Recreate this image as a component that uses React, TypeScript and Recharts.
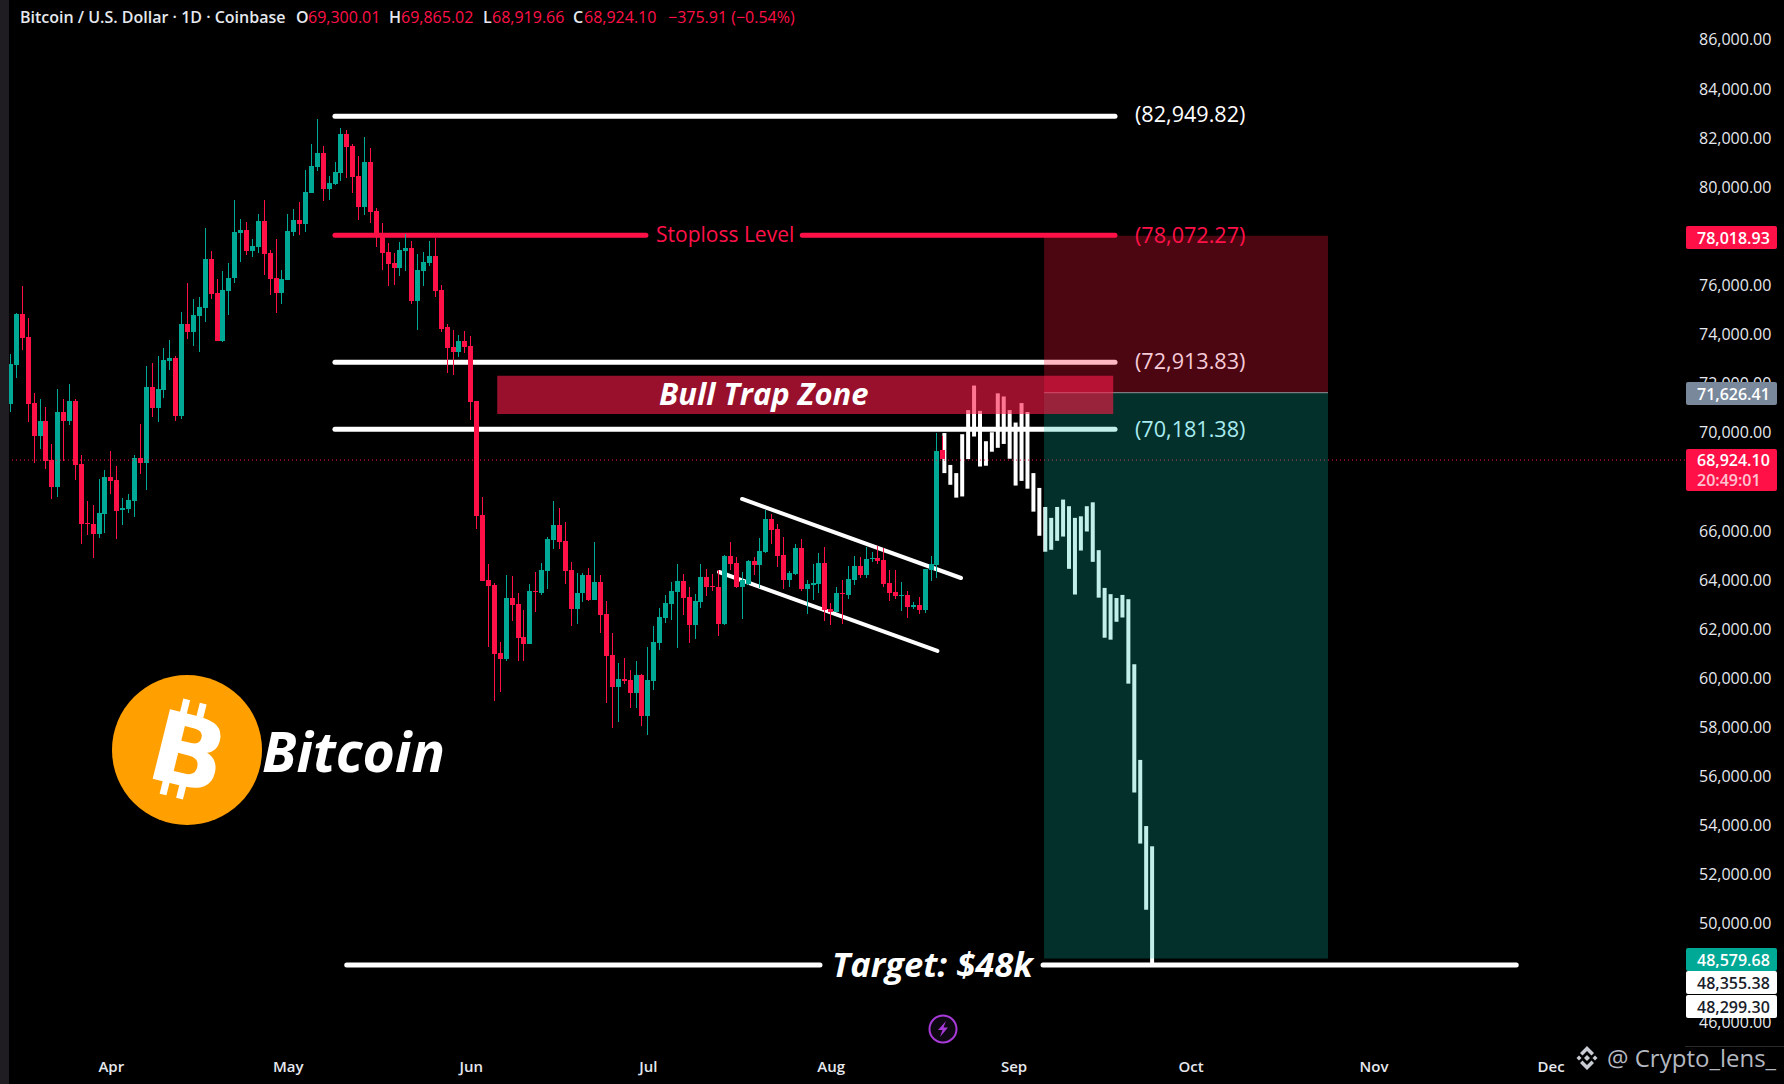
import React from 'react';
import { ComposedChart, Bar, XAxis, YAxis, ReferenceLine, ReferenceArea } from 'recharts';

const WIDTH = 1784;
const HEIGHT = 1084;
const UI_FONT = '"Open Sans", "Noto Sans", sans-serif';
const RED = '#ff1148';
const TEAL = '#00a896';

// daily candles
const opens = [
  71163, 72751, 74829, 73892, 71203, 69859, 70470, 68881, 67781, 70837, 70470, 71285, 68718, 66315, 66274, 65866, 66681, 68189, 68066, 66844,
  66885, 67211, 68963, 68759, 71855, 71000, 71733, 72914, 73037, 70674, 74422, 74096, 74748, 75074, 77070, 75685, 73729, 75766, 76296, 78129,
  78251, 77396, 77559, 78618, 77314, 76296, 75685, 76214, 78170, 78659, 78496, 79759, 80818, 81388, 79922, 80125, 80574, 82162, 81674, 80451,
  79188, 81022, 79025, 78048, 77355, 76907, 76703, 77396, 77518, 75359, 76581, 76907, 77192, 75807, 74300, 73485, 73281, 73729, 73526, 71285,
  66640, 63996, 63793, 61022, 60778, 63263, 63019, 61674, 61389, 63548, 63467, 64363, 65626, 66237, 65585, 64404, 62815, 63467, 64200, 63182,
  63915, 62611, 60941, 59637, 59963, 59922, 59393, 60126, 58456, 59882, 61430, 62448, 63019, 63508, 63956, 63304, 62163, 63100, 64119, 63752,
  63711, 62204, 64974, 64689, 63711, 63833, 64770, 64607, 65137, 66482, 66074, 65015, 63996, 64241, 65300, 63630, 63793, 63833, 64689, 62815,
  62693, 63467, 63385, 63996, 64567, 64200, 64852, 64893, 64811, 63874, 63508, 63345, 63385, 62896, 62978, 62774, 64404, 64626, 69300.01,
];
const highs = [
  73200, 74870, 75970, 74666, 71611, 71366, 71040, 69533, 71774, 71366, 71977, 71366, 69085, 67211, 67048, 68107, 68474, 69248, 68637, 67333,
  67496, 69085, 70348, 72711, 72833, 73118, 73444, 73770, 73118, 74911, 76092, 75440, 75522, 78333, 77396, 76255, 76581, 76907, 79474, 78700,
  78577, 77885, 78903, 79474, 77437, 77885, 76622, 78903, 79107, 79392, 80696, 81755, 82774, 81674, 80451, 81022, 82407, 82325, 81755, 81266,
  82040, 81592, 79148, 78537, 77722, 77314, 77763, 78088, 77803, 77274, 77355, 77803, 77925, 76011, 74422, 74177, 73974, 74137, 73933, 71285,
  67374, 64648, 63874, 61471, 64200, 64159, 63467, 62774, 63833, 64322, 64689, 65748, 67215, 66930, 66359, 64730, 64268, 64282, 64485, 65545,
  64200, 63141, 61837, 60615, 60819, 60330, 60696, 60167, 61267, 62122, 62856, 63385, 63915, 64648, 64241, 63711, 63426, 64648, 64445, 64241,
  64404, 65015, 65545, 64933, 64322, 64811, 64933, 65707, 66848, 66685, 66278, 65748, 64363, 65463, 65667, 63996, 64648, 65096, 65341, 63059,
  63711, 63996, 64567, 64974, 64933, 65341, 65137, 65382, 65300, 64404, 64404, 63915, 63548, 63100, 63304, 64445, 64974, 69983, 69865.02,
];
const lows = [
  70837, 72222, 73363, 70429, 68759, 69329, 68515, 67292, 67374, 68840, 70307, 68066, 65459, 65826, 64889, 65703, 65907, 67496, 65663, 66233,
  66722, 66559, 68311, 67659, 70633, 70429, 71407, 72548, 70470, 70552, 73811, 73526, 73281, 74503, 75440, 73729, 73689, 74788, 76092, 76948,
  77233, 77151, 77314, 76418, 75603, 74870, 75237, 76214, 78007, 78048, 78170, 79759, 80655, 79433, 79474, 80085, 80248, 80370, 79759, 78659,
  78862, 78537, 77559, 76622, 75970, 76011, 76377, 76581, 75237, 74177, 75970, 76785, 75522, 74096, 72426, 72344, 73077, 73240, 70511, 66070,
  63952, 61280, 59067, 59434, 60696, 62326, 60696, 60696, 61389, 62693, 63385, 63630, 65259, 65259, 63833, 62122, 62204, 63100, 63141, 63182,
  61837, 58985, 57967, 58211, 59759, 58782, 58782, 58048, 57682, 59515, 61145, 62245, 62367, 61226, 62570, 61430, 61593, 62856, 63345, 63548,
  61715, 62163, 64404, 63670, 62408, 63793, 64200, 63670, 65096, 65463, 64526, 63630, 63711, 64200, 63548, 62611, 63182, 63467, 62326, 62163,
  62693, 62204, 63222, 63793, 64078, 64078, 64730, 64648, 63711, 63141, 63222, 62733, 62448, 62815, 62611, 62652, 63956, 64071, 68919.66,
];
const closes = [
  72792, 74829, 73851, 71163, 69859, 70470, 68840, 67781, 70837, 70470, 71285, 68677, 66274, 66274, 65866, 66722, 68189, 68026, 66803, 66926,
  67252, 68963, 68759, 71855, 71000, 71774, 72955, 73037, 70674, 74422, 74096, 74788, 75114, 77070, 75644, 73729, 75807, 76296, 78170, 78251,
  77396, 77600, 78618, 77274, 76255, 75685, 76255, 78211, 78659, 78496, 79800, 80859, 81388, 79922, 80166, 80614, 82162, 81633, 80411, 79188,
  81022, 78985, 78048, 77314, 76866, 76703, 77437, 77518, 75359, 76622, 76948, 77192, 75766, 74218, 73444, 73281, 73729, 73485, 71244, 66600,
  63952, 63752, 60982, 60778, 63263, 62978, 61633, 61389, 63548, 63508, 64404, 65667, 66237, 65545, 64363, 62815, 63467, 64200, 63182, 63915,
  62570, 60900, 59637, 59963, 59882, 59393, 60126, 58456, 59922, 61471, 62489, 63059, 63548, 63956, 63263, 62163, 63141, 64119, 63711, 63711,
  62204, 64974, 64648, 63711, 63996, 64770, 64607, 65178, 66482, 66033, 64974, 63996, 64282, 65300, 63630, 63833, 63874, 64689, 62774, 62693,
  63467, 63426, 64037, 64567, 64200, 64852, 64893, 64770, 63833, 63467, 63345, 63385, 62896, 62978, 62774, 64445, 64648, 69254, 68924.1,
];

// the drawn projection after the last candle, one [low, high] bar per day, starting on day 158
const projectionLows = [
  68351, 67875, 67352, 67400, 68921, 69841, 68620, 68652, 69222, 69381, 69539, 68937, 67844, 68034, 67717, 66782, 65799, 65149,
  65228, 65593, 65767, 64452, 63406, 65197, 65973, 64737, 63279, 61646, 61567, 62296, 62470, 59776, 55338, 53262, 50567, 48380,
];
const projectionHighs = [
  69983, 68684, 68351, 69936, 70918, 71917, 70887, 69650, 70015, 71600, 71473, 70918, 70411, 71204, 70839, 68351, 67748, 66972,
  66528, 66972, 67273, 67003, 66528, 66591, 67003, 67162, 65212, 63675, 63421, 63263, 63390, 63215, 60568, 56669, 53975, 53151,
];
const PROJECTION_START = 158;

const monthTicks = [17, 47, 78, 108, 139, 170, 200, 231, 261];
const monthLabels = ['Apr', 'May', 'Jun', 'Jul', 'Aug', 'Sep', 'Oct', 'Nov', 'Dec'];
// 48k, 68k and 78k sit fully behind the price tags in the picture
const priceTicks = [
  46000, 50000, 52000, 54000, 56000, 58000, 60000, 62000, 64000, 66000,
  70000, 72000, 74000, 76000, 80000, 82000, 84000, 86000,
];

const chartData: any[] = [];
for (let day = 0; day < PROJECTION_START + projectionLows.length; day++) {
  const p = day - PROJECTION_START;
  chartData.push({
    day,
    open: opens[day],
    close: closes[day],
    candle: day < opens.length ? [lows[day], highs[day]] : null,
    projection: p >= 0 ? [projectionLows[p], projectionHighs[p]] : null,
  });
}

const Candle = (props: any) => {
  const { x, y, width, height, payload } = props;
  if (!payload || !payload.candle) return null;
  const [low, high] = payload.candle;
  const perUnit = height / (high - low);
  const top = y + (high - Math.max(payload.open, payload.close)) * perUnit;
  const bodyHeight = Math.max(Math.abs(payload.open - payload.close) * perUnit, 1);
  const color = payload.close >= payload.open ? TEAL : RED;
  return (
    <g shapeRendering="crispEdges">
      <rect x={x + width / 2 - 0.5} y={y} width={1} height={height} fill={color} />
      <rect x={x} y={top} width={width} height={bodyHeight} fill={color} />
    </g>
  );
};

const Overlay = ({ left, top, size, color, weight, italic, spacing, children }: any) => (
  <div
    style={{
      position: 'absolute',
      left,
      top,
      transform: 'translateY(-50%)',
      fontFamily: UI_FONT,
      fontSize: size,
      color,
      fontWeight: weight || 400,
      fontStyle: italic ? 'italic' : 'normal',
      letterSpacing: spacing || 0,
      whiteSpace: 'nowrap',
      lineHeight: 1,
    }}
  >
    {children}
  </div>
);

const PriceTag = ({ top, height, bg, color, lines }: any) => (
  <div
    style={{
      position: 'absolute',
      left: 1686,
      top,
      width: 91,
      height,
      background: bg,
      borderRadius: 2,
      display: 'flex',
      flexDirection: 'column',
      justifyContent: 'center',
      fontFamily: UI_FONT,
      fontSize: 16,
      fontWeight: 600,
      lineHeight: '20px',
      color,
      paddingLeft: 11,
      boxSizing: 'border-box',
    }}
  >
    {lines.map((l: string, i: number) => (
      <div key={l} style={{ opacity: i === 1 ? 0.75 : 1 }}>{l}</div>
    ))}
  </div>
);

const whiteLine = { stroke: '#ffffff', strokeWidth: 5, strokeLinecap: 'round' as const };
const redLine = { stroke: RED, strokeWidth: 5, strokeLinecap: 'round' as const };
const channelLine = { stroke: '#ffffff', strokeWidth: 4, strokeLinecap: 'round' as const };

export default function App() {
  return (
    <div style={{ position: 'absolute', left: 0, top: 0, width: WIDTH, height: HEIGHT, background: '#000', overflow: 'hidden' }}>
      <ComposedChart
        width={WIDTH}
        height={HEIGHT}
        data={chartData}
        margin={{ top: 0, right: 0, bottom: 0, left: 9 }}
      >
        <XAxis
          xAxisId="main"
          dataKey="day"
          type="number"
          domain={[-0.34, 283.7]}
          ticks={monthTicks}
          tickFormatter={(v: number) => monthLabels[monthTicks.indexOf(v)]}
          allowDataOverflow
          height={38}
          axisLine={false}
          tickLine={false}
          tickMargin={9}
          tick={{ fill: '#e6e8ee', fontSize: 15, fontWeight: 600, fontFamily: UI_FONT }}
        />
        {/* the projection bars run a little wider than the candles */}
        <XAxis xAxisId="ghost" orientation="top" height={0} dataKey="day" type="number" domain={[0.39, 282.8]} allowDataOverflow hide />
        <YAxis
          orientation="right"
          type="number"
          domain={[45017, 87621]}
          ticks={priceTicks}
          interval={0}
          allowDataOverflow
          width={99}
          axisLine={false}
          tickLine={false}
          tickMargin={8}
          tickFormatter={(v: number) => v.toLocaleString('en-US', { minimumFractionDigits: 2 })}
          tick={{ fill: '#e6e8ee', fontSize: 16, fontWeight: 500, fontFamily: UI_FONT }}
        />

        {/* hand drawn levels, under the candles */}
        <ReferenceLine xAxisId="main" zIndex={50} segment={[{ x: 54.9, y: 82884 }, { x: 187.1, y: 82884 }]} {...whiteLine} />
        <ReferenceLine xAxisId="main" zIndex={50} segment={[{ x: 54.9, y: 78037 }, { x: 107.6, y: 78037 }]} {...redLine} />
        <ReferenceLine xAxisId="main" zIndex={50} segment={[{ x: 134.1, y: 78037 }, { x: 187.1, y: 78037 }]} {...redLine} />
        <ReferenceLine xAxisId="main" zIndex={50} segment={[{ x: 54.9, y: 72864 }, { x: 187.1, y: 72864 }]} {...whiteLine} />
        <ReferenceLine xAxisId="main" zIndex={50} segment={[{ x: 54.9, y: 70136 }, { x: 187.1, y: 70136 }]} {...whiteLine} />
        <ReferenceLine xAxisId="main" zIndex={50} segment={[{ x: 56.9, y: 48317 }, { x: 137.1, y: 48317 }]} {...whiteLine} />
        <ReferenceLine xAxisId="main" zIndex={50} segment={[{ x: 174.9, y: 48317 }, { x: 255.1, y: 48317 }]} {...whiteLine} />
        <ReferenceLine xAxisId="main" zIndex={50} segment={[{ x: 123.9, y: 67297 }, { x: 161, y: 64079 }]} {...channelLine} />
        <ReferenceLine xAxisId="main" zIndex={50} segment={[{ x: 120, y: 64323 }, { x: 157, y: 61106 }]} {...channelLine} />

        <Bar xAxisId="ghost" dataKey="projection" fill="#ffffff" barSize={4} isAnimationActive={false} zIndex={100} />
        <Bar xAxisId="main" dataKey="candle" barSize={5} shape={<Candle />} isAnimationActive={false} zIndex={110} />

        <ReferenceLine xAxisId="main" zIndex={120} y={68880} stroke={RED} strokeWidth={1} strokeDasharray="1 3" />

        {/* short/long position boxes and the trap zone go over everything */}
        <ReferenceArea xAxisId="main" zIndex={130} x1={175.08} x2={223.2} y1={71626.41} y2={78018.93} fill="#f7143c" fillOpacity={0.3} stroke="none" />
        <ReferenceArea xAxisId="main" zIndex={130} x1={175.08} x2={223.2} y1={48579.68} y2={71626.41} fill="#0cc0a8" fillOpacity={0.25} stroke="none" />
        <ReferenceLine xAxisId="main" zIndex={131} segment={[{ x: 175.08, y: 71626.41 }, { x: 223.2, y: 71626.41 }]} stroke="#8f9499" strokeWidth={1} />
        <ReferenceArea xAxisId="main" zIndex={140} x1={82.4} x2={186.8} y1={70759} y2={72315} fill="#ff1b49" fillOpacity={0.6} stroke="none" />
      </ComposedChart>

      {/* left toolbar edge and axis separator */}
      <div style={{ position: 'absolute', left: 0, top: 0, width: 9, height: HEIGHT, background: '#1f1d22' }} />
      <div style={{ position: 'absolute', left: 1685, top: 1046, width: 99, height: 1, background: '#2a2a2a' }} />

      {/* legend */}
      <Overlay left={20} top={17} size={16} color="#e6e8ee" weight={600}>Bitcoin / U.S. Dollar · 1D · Coinbase</Overlay>
      <Overlay left={296} top={17} size={16} color="#e6e8ee" weight={600}>O</Overlay>
      <Overlay left={308} top={17} size={16} color={RED}>69,300.01</Overlay>
      <Overlay left={389} top={17} size={16} color="#e6e8ee" weight={600}>H</Overlay>
      <Overlay left={401} top={17} size={16} color={RED}>69,865.02</Overlay>
      <Overlay left={483} top={17} size={16} color="#e6e8ee" weight={600}>L</Overlay>
      <Overlay left={492} top={17} size={16} color={RED}>68,919.66</Overlay>
      <Overlay left={573} top={17} size={16} color="#e6e8ee" weight={600}>C</Overlay>
      <Overlay left={584} top={17} size={16} color={RED}>68,924.10</Overlay>
      <Overlay left={668} top={17} size={16} color={RED}>−375.91 (−0.54%)</Overlay>

      {/* drawing labels */}
      <Overlay left={1135} top={114} size={21.6} color="#ffffff" weight={500}>(82,949.82)</Overlay>
      <Overlay left={656} top={234} size={21} color={RED}>Stoploss Level</Overlay>
      <Overlay left={1135} top={235} size={21.6} color={RED} weight={500}>(78,072.27)</Overlay>
      <Overlay left={1135} top={361} size={21.6} color="#f6cbd8" weight={500}>(72,913.83)</Overlay>
      <Overlay left={1135} top={429} size={21.6} color="#a8ebf0" weight={500}>(70,181.38)</Overlay>
      <Overlay left={659} top={393} size={31} color="#ffffff" weight={700} italic>Bull Trap Zone</Overlay>
      <Overlay left={832} top={964} size={34.5} color="#ffffff" weight={700} italic>Target: $48k</Overlay>
      <Overlay left={262} top={751} size={55.5} color="#ffffff" weight={700} italic>Bitcoin</Overlay>

      {/* bitcoin logo */}
      <svg style={{ position: 'absolute', left: 112, top: 675, overflow: 'visible' }} width={150} height={150}>
        <circle cx={75} cy={75} r={75} fill="#ff9f00" />
        <g transform="rotate(14 75 75)" fill="#ffffff">
          <text x={77} y={111} textAnchor="middle" fontFamily="DejaVu Sans" fontWeight={700} fontSize={98}>B</text>
          <rect x={59} y={26} width={7} height={14} />
          <rect x={76} y={26} width={7} height={14} />
          <rect x={59} y={110} width={7} height={14} />
          <rect x={76} y={110} width={7} height={14} />
        </g>
      </svg>

      {/* replay icon */}
      <svg style={{ position: 'absolute', left: 928, top: 1014 }} width={30} height={30}>
        <circle cx={15} cy={15} r={13.5} fill="#0d0812" stroke="#a83ad8" strokeWidth={2} />
        <path d="M18 7 L10 16 L14.5 16 L12 23 L20 13.5 L15.5 13.5 Z" fill="#a83ad8" />
      </svg>

      {/* price scale tags */}
      <PriceTag top={226} height={23} bg={RED} color="#ffffff" lines={['78,018.93']} />
      <PriceTag top={382} height={23} bg="#79889b" color="#ffffff" lines={['71,626.41']} />
      <PriceTag top={449} height={42} bg={RED} color="#ffffff" lines={['68,924.10', '20:49:01']} />
      <PriceTag top={948} height={23} bg={TEAL} color="#ffffff" lines={['48,579.68']} />
      <PriceTag top={971} height={23} bg="#ffffff" color="#1a1e2b" lines={['48,355.38']} />
      <PriceTag top={995} height={23} bg="#ffffff" color="#1a1e2b" lines={['48,299.30']} />

      {/* watermark */}
      <svg style={{ position: 'absolute', left: 1574, top: 1045 }} width={26} height={26}>
        <g fill="#c9ccd3">
          <path d="M13 1 L20 8 L17.5 10.5 L13 6 L8.5 10.5 L6 8 Z" />
          <path d="M13 25 L20 18 L17.5 15.5 L13 20 L8.5 15.5 L6 18 Z" />
          <path d="M5 10.5 L7.5 13 L5 15.5 L2.5 13 Z" />
          <path d="M21 10.5 L23.5 13 L21 15.5 L18.5 13 Z" />
          <path d="M13 10 L16 13 L13 16 L10 13 Z" />
        </g>
      </svg>
      <Overlay left={1607} top={1058} size={24} color="#b4b8c0">@ Crypto_lens_</Overlay>
    </div>
  );
}
